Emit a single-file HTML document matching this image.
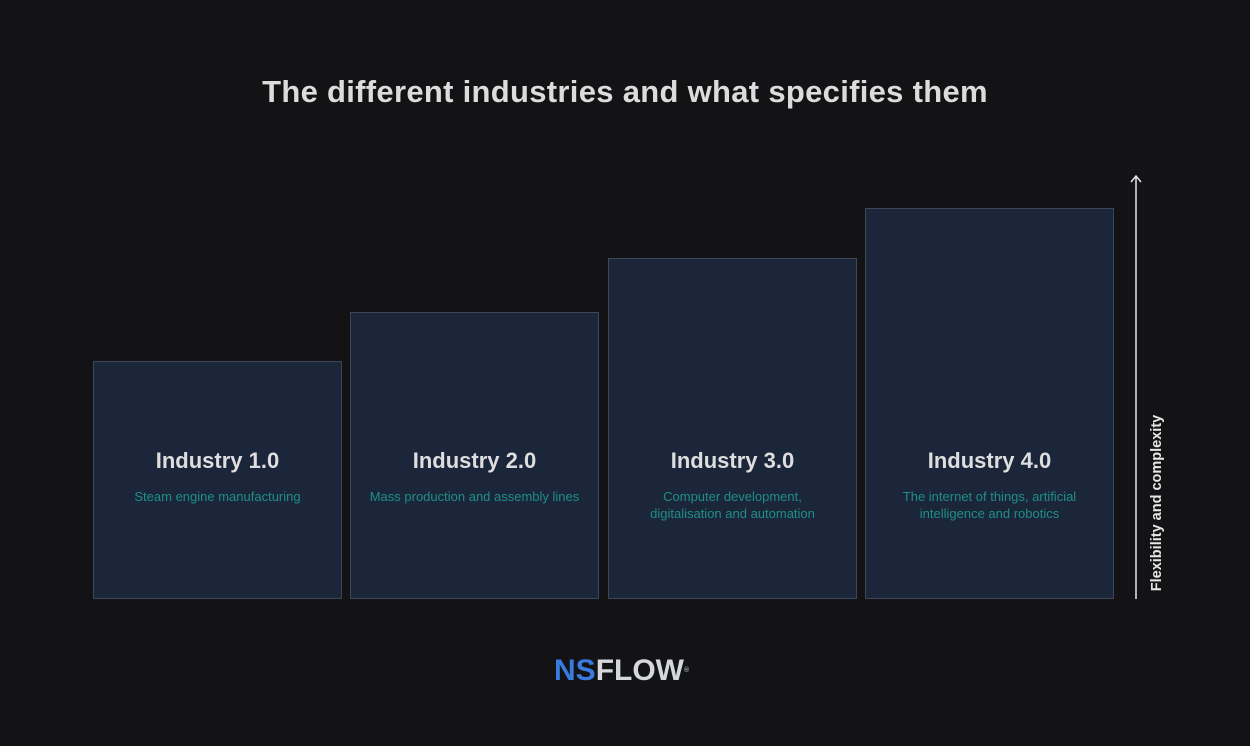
<!DOCTYPE html>
<html><head><style>
body{margin:0;width:1250px;height:746px;background:#131315;position:relative;overflow:hidden;font-family:"Liberation Sans","DejaVu Sans",sans-serif}
.t{position:absolute;top:74px;left:0;width:1250px;text-align:center;color:#dcdcdc;font-size:31px;font-weight:bold;letter-spacing:0.3px}
.b{position:absolute;width:249px;background:#1b263b;border:1px solid #3d4757;box-sizing:border-box;bottom:147px}
.b h{position:absolute;left:0;width:100%;top:0;text-align:center;color:#dedede;font-size:22px;font-weight:bold}
.b p{position:absolute;left:0;width:100%;margin:0;text-align:center;color:#1f8f84;font-size:13px;line-height:17px}
.v{position:absolute;left:1157px;top:503px;transform:translate(-50%,-50%) rotate(-90deg);color:#e6e6e6;font-size:14.5px;font-weight:bold;white-space:nowrap}
</style></head><body>
<div class="t">The different industries and what specifies them</div>
<div class="b" style="left:93px;height:238px"><h style="top:86px">Industry 1.0</h><p style="top:126px">Steam engine manufacturing</p></div>
<div class="b" style="left:350px;height:287px"><h style="top:135px">Industry 2.0</h><p style="top:175px">Mass production and assembly lines</p></div>
<div class="b" style="left:608px;height:341px"><h style="top:189px">Industry 3.0</h><p style="top:229px">Computer development,<br>digitalisation and automation</p></div>
<div class="b" style="left:865px;height:391px"><h style="top:239px">Industry 4.0</h><p style="top:279px">The internet of things, artificial<br>intelligence and robotics</p></div>
<svg style="position:absolute;left:0;top:0" width="1250" height="746"><line x1="1136" y1="176" x2="1136" y2="599" stroke="#e6e6e6" stroke-width="1.5"/><polyline points="1131,182 1136,176 1141,182" fill="none" stroke="#e6e6e6" stroke-width="1.5"/></svg>
<div class="v">Flexibility and complexity</div>
<div style="position:absolute;left:554px;top:654px;font-size:30px;font-weight:bold;line-height:34px"><span style="color:#3a7be0">NS</span><span style="color:#d4d8dc">FLOW</span><sup style="color:#aaa;font-size:7px;vertical-align:top">®</sup></div>
</body></html>
